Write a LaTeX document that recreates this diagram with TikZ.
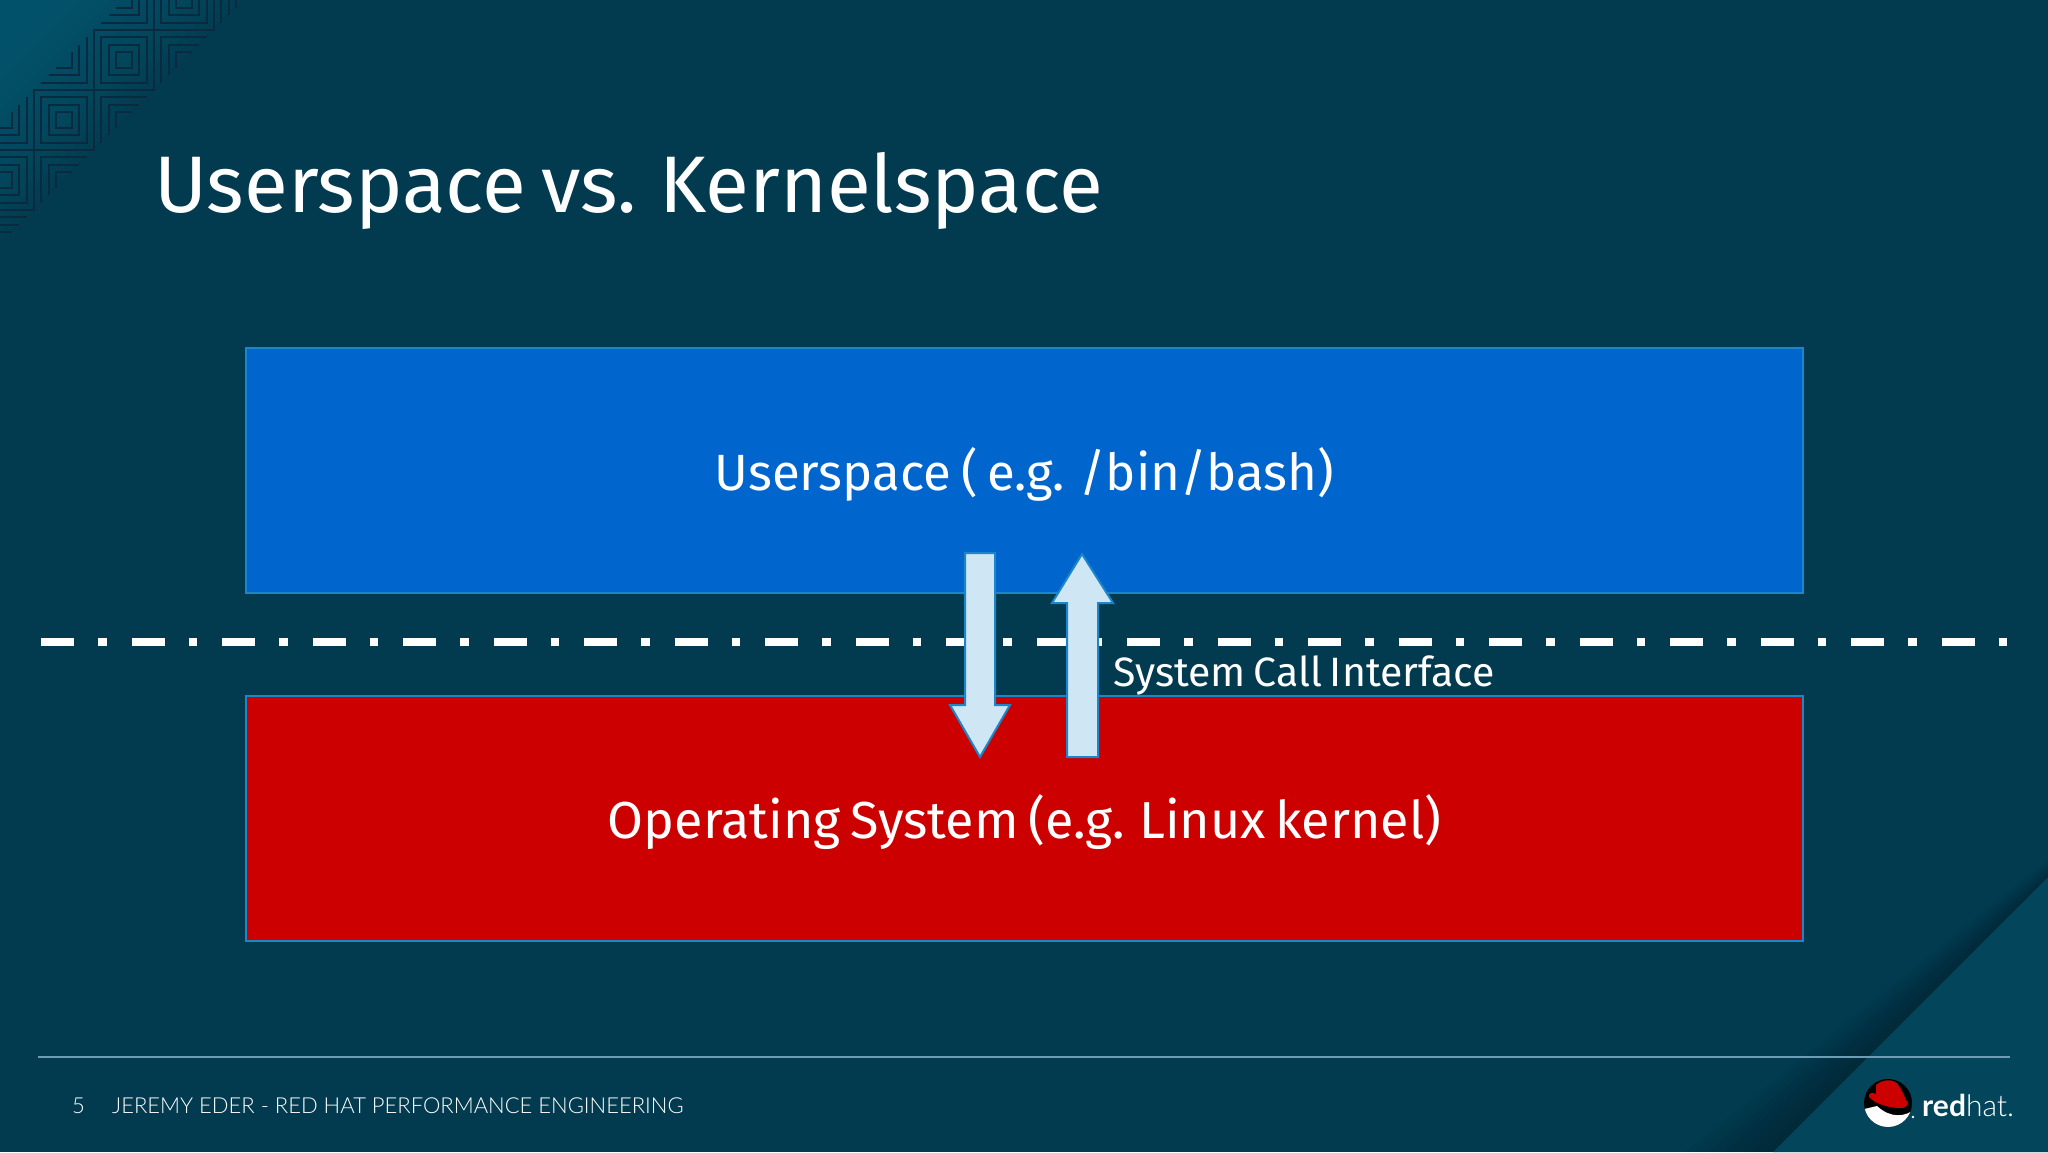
\documentclass[tikz,border=0pt]{standalone}
\usepackage{fontspec}
\setmainfont[WordSpace=0.72]{Fira Sans}
\newfontfamily\footfont{Lato Light}
\newfontfamily\logobold{Lato Bold}
\definecolor{slidebg}{HTML}{023B4F}
\definecolor{slidelight}{HTML}{03455A}
\definecolor{cornerlight}{HTML}{0E5D76}
\definecolor{patternline}{HTML}{0A2A40}
\definecolor{boxline}{HTML}{1B86C9}
\definecolor{userblue}{HTML}{0065CC}
\definecolor{kernelred}{HTML}{CD0000}
\definecolor{arrowfill}{HTML}{CFE6F5}
\definecolor{footline}{HTML}{6C9DB5}
\definecolor{hatred}{HTML}{CC0000}
\tikzset{
  spacebox/.style={draw=boxline,line width=2pt,minimum width=1557pt,minimum height=245pt,inner sep=0pt,text=white},
  blockarrow/.style={draw=boxline,line width=2pt,fill=arrowfill,line join=miter},
  patternstroke/.style={draw=patternline,line width=1.6pt},
  slidetext/.style={text=white,inner sep=0pt}
}
\begin{document}
\begin{tikzpicture}[x=1pt,y=-1pt]
\useasboundingbox (0,0) rectangle (2048,1152);
\begin{scope}
\clip (0,0) rectangle (2048,1152);
\fill [slidebg] (0,0) rectangle (2048,1152);
% top left corner
\foreach \d in {20,30,...,240}
  \fill [cornerlight,opacity=0.08] (0,0) -- (\d,0) -- (0,\d) -- cycle;
% bottom right corner
\foreach \d in {0,8,...,88}
  \fill [black!60!slidebg,opacity=0.045] (2048+\d,877-\d) -- (2048,1152) -- (1773-\d,1152) -- cycle;
\fill [slidelight] (2048,877) -- (2048,1152) -- (1773,1152) -- cycle;
% pattern
\foreach \cx/\cy in {184/0,124/60,64/120,4/180} {
  \draw [patternstroke] (\cx-30,\cy-30) rectangle (\cx+30,\cy+30);
  \foreach \h in {23,15,8}
    \draw [patternstroke] (\cx-\h,\cy-\h) rectangle (\cx+\h,\cy+\h);
}
\foreach \cx/\cy in {244/0,184/60,124/120,64/180,4/240}
  \foreach \h in {23,15,8}
    \draw [patternstroke] (\cx+\h,\cy-\h) -- (\cx-\h,\cy-\h) -- (\cx-\h,\cy+\h);
\foreach \cx/\cy in {124/0,64/60,4/120,-56/180}
  \foreach \h in {23,15,8}
    \draw [patternstroke] (\cx+\h,\cy-\h) -- (\cx+\h,\cy+\h) -- (\cx-\h,\cy+\h);
\end{scope}
\node [slidetext,anchor=base west,font=\fontsize{80.2}{90}\selectfont] (title) at (154,212) {Userspace vs. Kernelspace};
% the two boxes
\node [spacebox,fill=userblue] (userspace) at (1024.5,470.5) {};
\node [spacebox,fill=kernelred] (kernel) at (1024.5,818.5) {};
\node [slidetext,font=\fontsize{51}{60}\selectfont] (userlabel) at (1024.5,474.5) {Userspace ( e.g. /bin/bash)};
\node [slidetext,font=\fontsize{52}{60}\selectfont] (kernellabel) at (1024.5,822.5) {Operating System (e.g. Linux kernel)};
% dash dot line
\draw [white,line width=8.5pt,dash pattern=on 33pt off 24pt on 8.5pt off 25pt] (41,642) -- (2007,642);
\draw [blockarrow] (965,553) -- ++(30,0) -- ++(0,152) -- ++(15,0) -- (980,757) -- (950,705) -- ++(15,0) -- cycle;
\draw [blockarrow] (1067,757) -- ++(31,0) -- ++(0,-154) -- ++(15,0) -- (1082,554) -- (1052,603) -- ++(15,0) -- cycle;
\node [slidetext,anchor=base west,font=\fontsize{41}{48}\selectfont] (syscall) at (1113,686) {System Call Interface};
% footer
\draw [footline,line width=1.3pt] (38,1057) -- (2010,1057);
\node [slidetext,anchor=base west,font=\footfont\fontsize{22}{26}\selectfont] (pagenum) at (72,1113) {5};
\node [slidetext,anchor=base west,font=\footfont\fontsize{22}{26}\selectfont] (footer) at (112,1113) {JEREMY EDER - RED HAT PERFORMANCE ENGINEERING};
% logo
\fill [black] (1888,1103) circle (24);
\begin{scope}
\clip (1888,1103) circle (24);
\fill [white] (1860,1110) -- (1877,1106) .. controls (1890,1118) and (1905,1118) .. (1916,1108) -- (1916,1130) -- (1860,1130) -- cycle;
\end{scope}
\fill [hatred] (1876,1085) .. controls (1882,1079) and (1895,1078) .. (1899,1086) .. controls (1903,1092) and (1905,1098) .. (1906,1100) .. controls (1910,1102) and (1908,1108) .. (1900,1108) .. controls (1890,1108) and (1875,1104) .. (1869,1097) .. controls (1868,1093) and (1872,1092) .. (1876,1094) -- cycle;
\fill [white] (1913,1117) circle (1.3);
\node [slidetext,anchor=base west,font=\fontsize{30}{36}\selectfont] (logotext) at (1922,1116) {{\logobold red}{\footfont hat.}};
\end{tikzpicture}
\end{document}
